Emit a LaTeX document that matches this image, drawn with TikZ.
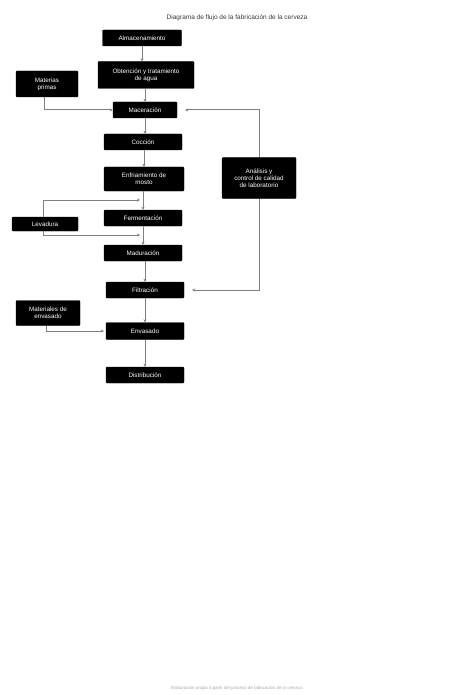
\documentclass[tikz,border=0pt]{standalone}
\usepackage{fontspec}
\setmainfont{Liberation Sans}
\usepackage{tikz}
\usetikzlibrary{arrows.meta,positioning}

\tikzset{
  etapa/.style={draw=black, fill=black, text=white, rounded corners=1pt,
    font=\fontsize{6.3}{7}\selectfont, align=center, inner sep=1pt},
  flujo/.style={draw=black!50, line width=1pt, -{Stealth[length=3pt,width=3pt]}}
}

\begin{document}
\begin{tikzpicture}[x=1pt,y=-1pt]

\useasboundingbox (0,0) rectangle (474,695);

\node[font=\fontsize{6.5}{7}\selectfont, text=black!80] (titulo) at (237,18)
  {Diagrama de flujo de la fabricación de la cerveza};

% linea principal
\node[etapa, minimum width=79pt, minimum height=16pt] (almacen) at (142,38) {Almacenamiento};
\node[etapa, minimum width=96pt, minimum height=27pt] (agua) at (146,75) {Obtención y tratamiento\\de agua};
\node[etapa, minimum width=64pt, minimum height=16pt] (macera) at (145,110) {Maceración};
\node[etapa, minimum width=78pt, minimum height=16pt] (coccion) at (143,142) {Cocción};
\node[etapa, minimum width=80pt, minimum height=24pt] (enfria) at (144,179) {Enfriamiento de\\mosto};
\node[etapa, minimum width=78pt, minimum height=16pt] (ferment) at (143,218) {Fermentación};
\node[etapa, minimum width=78pt, minimum height=16pt] (madura) at (143,253) {Maduración};
\node[etapa, minimum width=78pt, minimum height=16pt] (filtra) at (145,290) {Filtración};
\node[etapa, minimum width=78pt, minimum height=17pt] (envasa) at (145,331) {Envasado};
\node[etapa, minimum width=78pt, minimum height=16pt] (distrib) at (145,375) {Distribución};

% entradas laterales
\node[etapa, minimum width=62pt, minimum height=26pt] (materias) at (47,84) {Materias\\primas};
\node[etapa, minimum width=66pt, minimum height=14pt] (levadura) at (45,224) {Levadura};
\node[etapa, minimum width=64pt, minimum height=25pt] (materiales) at (48,313) {Materiales de\\envasado};
\node[etapa, minimum width=74pt, minimum height=41pt] (control) at (259,178) {Análisis y\\control de calidad\\de laboratorio};

\coordinate (lev1) at (143,200);
\coordinate (lev2) at (143,235);

\draw[flujo] (almacen) -- (almacen |- agua.north);
\draw[flujo] (agua.south -| macera) -- (macera);
\draw[flujo] (macera) -- (macera |- coccion.north);
\draw[flujo] (coccion.south -| enfria) -- (enfria);
\draw[flujo] (enfria.south -| ferment) -- (ferment);
\draw[flujo] (ferment) -- (madura);
\draw[flujo] (madura.south -| filtra) -- (filtra);
\draw[flujo] (filtra) -- (envasa);
\draw[flujo] (envasa) -- (distrib);

\draw[flujo] ([xshift=-3pt]materias.south) |- (macera.west);
\draw[flujo] (control.north) |- ([xshift=8pt]macera.east);
\draw[flujo] (control.south) |- ([xshift=8pt]filtra.east);
\draw[flujo] ([xshift=-2pt]levadura.north) |- ([xshift=-3pt]lev1);
\draw[flujo] ([xshift=-2pt]levadura.south) |- ([xshift=-3pt]lev2);
\draw[flujo] ([xshift=-2pt]materiales.south) |- ([xshift=-2pt]envasa.west);

\node[font=\fontsize{4.4}{5}\selectfont, text=black!35] (pie) at (237,688)
  {Elaboración propia a partir del proceso de fabricación de la cerveza};

\end{tikzpicture}
\end{document}
